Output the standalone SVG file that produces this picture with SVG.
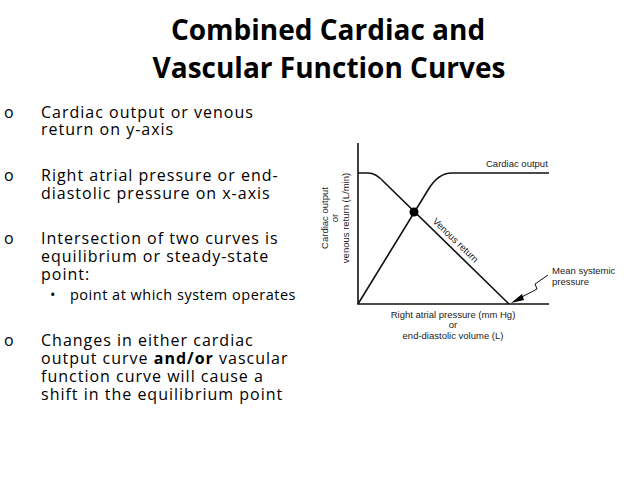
<svg xmlns="http://www.w3.org/2000/svg" width="638" height="479" viewBox="0 0 638 479">
<style>
.t{font-family:"Open Sans","Liberation Sans",sans-serif;font-size:16px;letter-spacing:1px;fill:#000}
.s{font-size:14.5px;letter-spacing:0.5px}
.title{font-family:"Open Sans","Liberation Sans",sans-serif;font-size:28px;font-weight:bold;text-anchor:middle}
.g{font-family:"Liberation Sans",Arial,sans-serif;font-size:9.5px;fill:#222}
.ln{fill:none;stroke:#111;stroke-width:1.6}
</style>
<rect width="638" height="479" fill="#fff"/>
<g id="title">
<text class="title" x="328" y="40">Combined Cardiac and</text>
<text class="title" x="329" y="78">Vascular Function Curves</text>
</g>
<g id="bullets">
<text class="t" x="4" y="118">o</text><text class="t" x="41" y="118">Cardiac output or venous</text>
<text class="t" x="41" y="135">return on y-axis</text>
<text class="t" x="4" y="181">o</text><text class="t" x="41" y="181">Right atrial pressure or end-</text>
<text class="t" x="41" y="199">diastolic pressure on x-axis</text>
<text class="t" x="4" y="244">o</text><text class="t" x="41" y="244">Intersection of two curves is</text>
<text class="t" x="41" y="262">equilibrium or steady-state</text>
<text class="t" x="41" y="280">point:</text>
<text class="t s" x="50" y="300">•</text><text class="t s" x="70" y="300">point at which system operates</text>
<text class="t" x="4" y="346">o</text><text class="t" x="41" y="346">Changes in either cardiac</text>
<text class="t" x="41" y="364">output curve <tspan font-weight="bold">and/or</tspan> vascular</text>
<text class="t" x="41" y="382">function curve will cause a</text>
<text class="t" x="41" y="400">shift in the equilibrium point</text>
</g>
<g id="graph">
<path class="ln" d="M358,143 V304 H549"/>
<path id="co" class="ln" d="M358,304 L428,190 Q438,173 452,173 H549"/>
<path id="vr" class="ln" d="M358,173 H368 Q376,173 384,182 L509,304"/>
<circle cx="414" cy="212" r="4.5" fill="#000"/>
<path class="ln" style="stroke-width:1" d="M548,275 L535,284 L537,289 L520,298"/>
<path d="M511,303 L522,294 L524,300 Z" fill="#000"/>
<text class="g" x="486" y="167">Cardiac output</text>
<text class="g" transform="translate(432,222) rotate(44)">Venous return</text>
<text class="g" x="552" y="274">Mean systemic</text>
<text class="g" x="552" y="285">pressure</text>
<g text-anchor="middle">
<text class="g" transform="translate(328,218) rotate(-90)">Cardiac output</text>
<text class="g" transform="translate(338,218) rotate(-90)">or</text>
<text class="g" transform="translate(349,218) rotate(-90)">venous return (L/min)</text>
<text class="g" x="453" y="318">Right atrial pressure (mm Hg)</text>
<text class="g" x="453" y="328">or</text>
<text class="g" x="453" y="339">end-diastolic volume (L)</text>
</g>
</g>
</svg>
